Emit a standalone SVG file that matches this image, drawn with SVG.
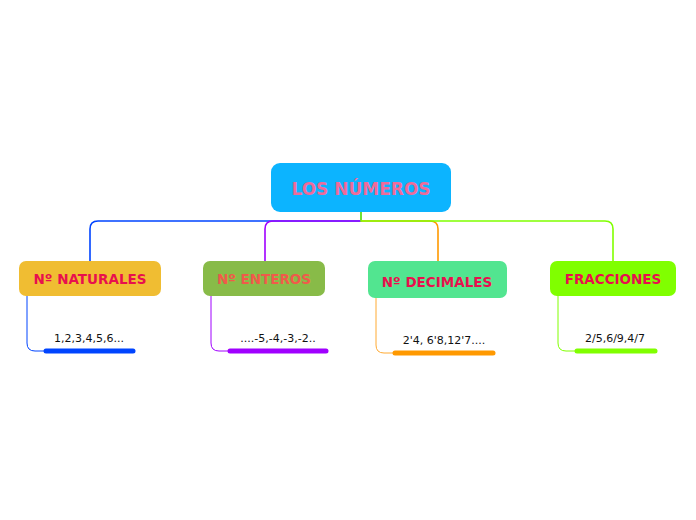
<svg xmlns="http://www.w3.org/2000/svg" width="696" height="520" viewBox="0 0 696 520">
<style>
.n{font-family:"DejaVu Sans",Verdana,sans-serif;font-weight:bold;font-size:13.5px;text-anchor:middle;fill:#e8104e}
.s{font-family:"DejaVu Sans",Verdana,sans-serif;font-size:11px;text-anchor:middle;fill:#111}
.c{fill:none;stroke-width:1.6}
.t{fill:none;stroke-width:1}
.b{stroke-width:5;stroke-linecap:round}
</style>
<rect width="696" height="520" fill="#fff"/>
<g id="connectors">
<path class="c" stroke="#0044ff" d="M361,212V221H98Q90,221 90,229V261"/>
<path class="c" stroke="#a000ff" d="M361,221H273Q265,221 265,229V261"/>
<path class="c" stroke="#ff9900" d="M361,221H430Q438,221 438,229V261"/>
<path class="c" stroke="#80ff00" d="M361,212V221H605Q613,221 613,229V261"/>
<path class="t" stroke="#0044ff" d="M27,296V343Q27,351 35,351H44"/>
<line class="b" stroke="#0044ff" x1="46" y1="351" x2="133" y2="351"/>
<path class="t" stroke="#a000ff" d="M211,296V343Q211,351 219,351H228"/>
<line class="b" stroke="#a000ff" x1="230" y1="351" x2="326" y2="351"/>
<path class="t" stroke="#ffaa33" d="M376,298V345Q376,353 384,353H393"/>
<line class="b" stroke="#ff9900" x1="395" y1="353" x2="493" y2="353"/>
<path class="t" stroke="#80ff00" d="M558,296V343Q558,351 566,351H575"/>
<line class="b" stroke="#80ff00" x1="577" y1="351" x2="655" y2="351"/>
</g>
<g id="root"><rect x="271" y="163" width="180" height="49" rx="9" fill="#0cb4ff"/><text x="361" y="195" class="n" style="font-size:17px;fill:#f06b9a">LOS NÚMEROS</text></g>
<g id="naturales"><rect x="19" y="261" width="142" height="35" rx="7" fill="#f0bd32"/><text x="90" y="284" class="n">Nº NATURALES</text></g>
<g id="enteros"><rect x="203" y="261" width="122" height="35" rx="7" fill="#88bb48"/><text x="264" y="284" class="n" style="fill:#f05a4a">Nº ENTEROS</text></g>
<g id="decimales"><rect x="368" y="261" width="139" height="37" rx="7" fill="#52e590"/><text x="437" y="287" class="n">Nº DECIMALES</text></g>
<g id="fracciones"><rect x="550" y="261" width="126" height="35" rx="7" fill="#80ff00"/><text x="613" y="284" class="n">FRACCIONES</text></g>
<g id="s1"><text x="89" y="342" class="s">1,2,3,4,5,6...</text></g>
<g id="s2"><text x="278" y="342" class="s">....-5,-4,-3,-2..</text></g>
<g id="s3"><text x="444" y="344" class="s">2'4, 6'8,12'7....</text></g>
<g id="s4"><text x="615" y="342" class="s">2/5,6/9,4/7</text></g>
</svg>
